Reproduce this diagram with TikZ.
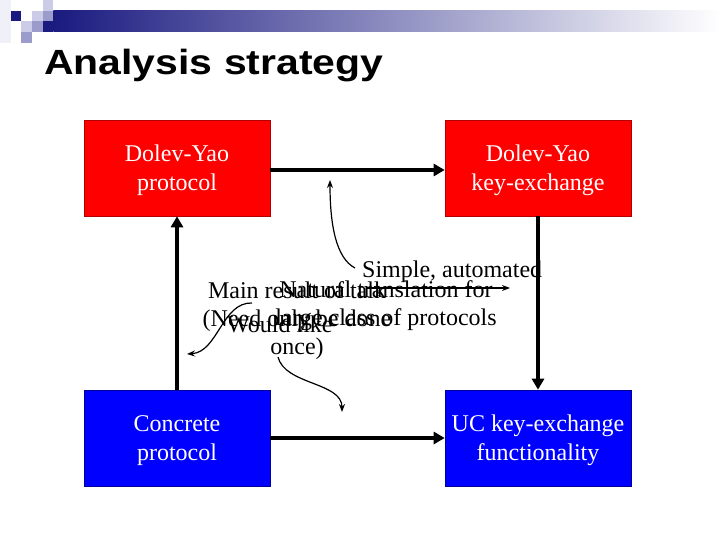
\documentclass[tikz,border=0pt]{standalone}
\usepackage{fontspec}
\setmainfont{Liberation Serif}
\newfontfamily\titlefont{Liberation Sans}
\usetikzlibrary{arrows.meta,calc}
\definecolor{navyc}{RGB}{26,26,128}
\definecolor{lavl}{RGB}{204,204,232}
\definecolor{lavm}{RGB}{156,156,204}
\definecolor{lavf}{RGB}{240,240,248}
\definecolor{boxred}{RGB}{255,0,0}
\definecolor{boxblue}{RGB}{0,0,255}
\begin{document}
\begin{tikzpicture}[x=1pt,y=-1pt,
  redbox/.style={draw=red!70!black, line width=0.6pt, fill=boxred, minimum width=186pt, minimum height=96pt, inner sep=0pt, text=white, align=center, text height=50pt, text depth=5.5pt, font=\fontsize{24}{29}\selectfont},
  bluebox/.style={redbox, draw=blue!60!black, fill=boxblue},
  thickarrow/.style={line width=4pt, -{Triangle[width=12pt,length=11pt]}},
  notearrow/.style={line width=1.2pt, -{Stealth[width=6pt,length=8pt]}},
  note/.style={font=\fontsize{24}{28}\selectfont, inner sep=0pt, align=center}]
\useasboundingbox (0,0) rectangle (720,540);
\fill[white] (0,0) rectangle (720,540);
% header decoration
\fill[lavf] (0,0) rectangle (10.7,42.7);
\shade[left color=navyc, right color=white] (53.3,10.7) rectangle (720,32);
\fill[navyc] (10.7,10.7) rectangle (21.3,21.3);
\fill[lavl] (42.7,0) rectangle (53.3,10.7);
\fill[lavl] (32,10.7) rectangle (42.7,21.3);
\fill[lavm] (42.7,10.7) rectangle (53.3,21.3);
\fill[lavl] (21.3,21.3) rectangle (32,32);
\fill[lavm] (32,21.3) rectangle (42.7,32);
\fill[navyc] (42.7,21.3) rectangle (53.3,32);
\fill[lavm] (21.3,32) rectangle (32,42.7);
% title
\node[anchor=base west, inner sep=0pt, xscale=1.17, font=\titlefont\bfseries\fontsize{35}{40}\selectfont] (title) at (44,75) {Analysis strategy};
% boxes
\node[redbox] (dyp) at (177,168) {Dolev-Yao\\protocol};
\node[redbox] (dyk) at (538,168) {Dolev-Yao\\key-exchange};
\node[bluebox] (cp) at (177,438) {Concrete\\protocol};
\node[bluebox] (uc) at (538,438) {UC key-exchange\\functionality};
% main arrows
\draw[thickarrow] ($(dyp.east)+(0,2)$) -- ($(dyk.west)+(0,2)$);
\draw[thickarrow] (cp.north) -- (dyp.south);
\draw[thickarrow] (dyk.south) -- (uc.north);
\draw[thickarrow] (cp.east) -- (uc.west);
% notes
\node[note, anchor=base west] (simple) at (362,277) {Simple, automated};
\node[note, anchor=base] (natural) at (386,325) {Natural translation for\\large class of protocols};
\node[note, anchor=base] (mainres) at (297,354) {Main result of talk\\(Need only be done\\once)};
\node[note, anchor=base west] (would) at (227,332) {Would like};
% note arrows
\coordinate (sStart) at ($(simple.base west)+(-7,-9)$);
\coordinate (sTip) at (330,180);
\draw[notearrow] (sStart) .. controls (336,258) and (330,225) .. (sTip);
\coordinate (nStart) at (367,288);
\coordinate (nTip) at (510,288);
\draw[notearrow] (nStart) -- (nTip);
\coordinate (wStart) at ($(would.base west)+(25,-29)$);
\coordinate (wTip) at (187,354);
\draw[notearrow] (wStart) .. controls (222,302) and (218,352) .. (wTip);
\coordinate (oStart) at (278,357);
\coordinate (oTip) at (342,412);
\draw[notearrow] (oStart) .. controls (285,385) and (342,382) .. (oTip);
\end{tikzpicture}
\end{document}
